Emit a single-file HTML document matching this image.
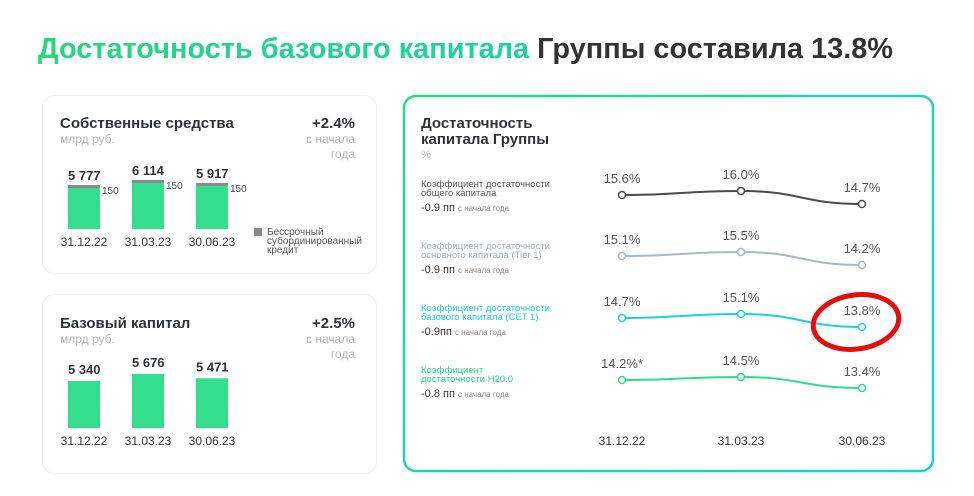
<!DOCTYPE html>
<html><head><meta charset="utf-8"><style>
html,body{margin:0;padding:0;background:#fff;}
svg{display:block;font-family:"Liberation Sans",sans-serif;}
</style></head><body>
<svg id="s" width="974" height="496" viewBox="0 0 974 496">
<defs>
<linearGradient id="bg" x1="0" y1="0" x2="1" y2="1"><stop offset="0" stop-color="#2bd68a"/><stop offset="1" stop-color="#1ccfd8"/></linearGradient>
<linearGradient id="tg" x1="0" y1="0" x2="1" y2="0"><stop offset="0" stop-color="#2bd47e"/><stop offset="1" stop-color="#16cfc0"/></linearGradient>
</defs>
<text x="38" y="58" font-size="29" font-weight="bold" textLength="855" lengthAdjust="spacingAndGlyphs"><tspan fill="url(#tg)">Достаточность базового капитала</tspan><tspan fill="#333"> Группы составила 13.8%</tspan></text>

<rect x="42.5" y="95.5" width="334" height="178" rx="12" fill="#fff" stroke="#eef0f6"/>
<text x="60" y="128" font-size="15" font-weight="bold" fill="#2f3338">Собственные средства</text>
<text x="60" y="143" font-size="12" fill="#b5b5b5">млрд руб.</text>
<text x="355" y="128" font-size="15" font-weight="bold" fill="#2f3338" text-anchor="end">+2.4%</text>
<text x="355" y="143" font-size="12" fill="#b5b5b5" text-anchor="end">с начала</text>
<text x="355" y="158" font-size="12" fill="#b5b5b5" text-anchor="end">года</text>
<g id="bars1"></g>
<rect x="254" y="228" width="8" height="8" fill="#888"/>
<text font-size="10" fill="#555"><tspan x="267" y="235">Бессрочный</tspan><tspan x="267" y="244">субординированный</tspan><tspan x="267" y="253">кредит</tspan></text>

<rect x="42.5" y="294.5" width="334" height="179" rx="12" fill="#fff" stroke="#eef0f6"/>
<text x="60" y="328" font-size="15" font-weight="bold" fill="#2f3338">Базовый капитал</text>
<text x="60" y="343" font-size="12" fill="#b5b5b5">млрд руб.</text>
<text x="355" y="328" font-size="15" font-weight="bold" fill="#2f3338" text-anchor="end">+2.5%</text>
<text x="355" y="343" font-size="12" fill="#b5b5b5" text-anchor="end">с начала</text>
<text x="355" y="358" font-size="12" fill="#b5b5b5" text-anchor="end">года</text>
<g id="bars2"></g>

<rect x="404" y="96" width="529" height="375" rx="12" fill="#fff" stroke="url(#bg)" stroke-width="2.5"/>
<text font-size="15" font-weight="bold" fill="#2f3338"><tspan x="421" y="128">Достаточность</tspan><tspan x="421" y="144">капитала Группы</tspan></text>
<text x="421" y="158" font-size="11" fill="#bbb">%</text>
<g id="lines"></g>
<ellipse cx="856" cy="322" rx="43" ry="27" transform="rotate(-8 856 322)" fill="none" stroke="#e30d0d" stroke-width="5"/>
</svg>
<script>
const NS='http://www.w3.org/2000/svg';
const dates=['31.12.22','31.03.23','30.06.23'];
const ownFunds=[5777,6114,5917];
const subDebt=[150,150,150];
const baseCapital=[5340,5676,5471];
const totalRatio=[15.6,16.0,14.7];
const tier1Ratio=[15.1,15.5,14.2];
const cet1Ratio=[14.7,15.1,13.8];
const h20Ratio=[14.2,14.5,13.4];
const h20Labels=['14.2%*','14.5%','13.4%'];
const fmt=v=>{const s=String(v);return s.length>3?s.slice(0,-3)+' '+s.slice(-3):s;};
function el(tag,attrs,parent,txt){const e=document.createElementNS(NS,tag);for(const k in attrs)e.setAttribute(k,attrs[k]);if(txt!=null)e.textContent=txt;parent.appendChild(e);return e;}

function bars(gid,vals,base,top,dmin,dmax,hmin,hmax,debt,dateY,labelY){
  const g=document.getElementById(gid);
  const xs=[68,132,196];
  const y=v=>base-(hmin+(v-dmin)/(dmax-dmin)*(hmax-hmin));
  vals.forEach((v,i)=>{
    const yt=y(v);
    const r=el('rect',{x:xs[i],y:yt,width:32,height:base-yt,fill:'#35de8f'},g);
    
    
    if(debt){
      const d=el('rect',{x:xs[i],y:yt-3,width:32,height:3,fill:'#8a8a8a'},g);
      
      
      const dt=el('text',{x:xs[i]+34,y:yt+6,'font-size':10,fill:'#444'},g,String(debt[i]));
      
      
    }
    const t=el('text',{x:xs[i],y:yt-(debt?8:7),'font-size':13,'font-weight':'bold',fill:'#2f3338'},g,fmt(v));
    
    
    const dl=el('text',{x:xs[i]+16,y:dateY,'font-size':12,fill:'#333','text-anchor':'middle'},g,dates[i]);
    
    
  });
}
bars('bars1',ownFunds,229,0,5777,6114,41,46,subDebt,246);
bars('bars2',baseCapital,428,0,5340,5676,47,54,null,445);

const lg=document.getElementById('lines');
const px=[622,741,862];
const rows=[
 {v:totalRatio,base:351,col:'#4b4b4b',lab:['Коэффициент достаточности','общего капитала'],lc:'#555',d:'-0.9 пп',ly:187},
 {v:tier1Ratio,base:407,col:'#a8b8c6',lab:['Коэффициент достаточности','основного капитала (Tier 1)'],lc:'#9fb1c2',d:'-0.9 пп',ly:249},
 {v:cet1Ratio,base:465,col:'#1dd0dc',lab:['Коэффициент достаточности','базового капитала (CET 1)'],lc:'#1dcbd8',d:'-0.9пп',ly:311},
 {v:h20Ratio,base:522,col:'#2fdc8a',lab:['Коэффициент','достаточности Н20.0'],lc:'#2bd488',d:'-0.8 пп',ly:373,labels:h20Labels}
];
const yOf=(r,v)=>r.base-10*v;
rows.forEach((r,ri)=>{
  const pts=r.v.map((v,i)=>[px[i],yOf(r,v)]);
  let d='M'+pts[0][0]+','+pts[0][1];
  for(let i=1;i<pts.length;i++){const [x0,y0]=pts[i-1],[x1,y1]=pts[i];const mx=(x0+x1)/2;d+=` C${mx},${y0} ${mx},${y1} ${x1},${y1}`;}
  const p=el('path',{d:d,fill:'none',stroke:r.col,'stroke-width':2},lg);
  
  
  pts.forEach(([x,y],i)=>{
    const c=el('circle',{cx:x,cy:y,r:3.5,fill:'#fff',stroke:r.col,'stroke-width':1.5},lg);
    
    
    const t=el('text',{x:x,y:y-12,'font-size':13,fill:'#555','text-anchor':'middle'},lg,r.labels?r.labels[i]:r.v[i].toFixed(1)+'%');
    
    
  });
  const lt=el('text',{'font-size':9.5,fill:r.lc},lg);
  
  
  r.lab.forEach((s,k)=>el('tspan',{x:421,y:r.ly+k*9},lt,s));
  const dt=el('text',{x:421,y:r.ly+24,'font-size':11,fill:'#333'},lg);
  
  
  el('tspan',{},dt,r.d+' ');
  el('tspan',{'font-size':8,fill:'#888'},dt,'с начала года');
});
dates.forEach((s,i)=>{
  const t=el('text',{x:px[i],y:445,'font-size':12,fill:'#333','text-anchor':'middle'},lg,s);
  
  
});
</script>
</body></html>
